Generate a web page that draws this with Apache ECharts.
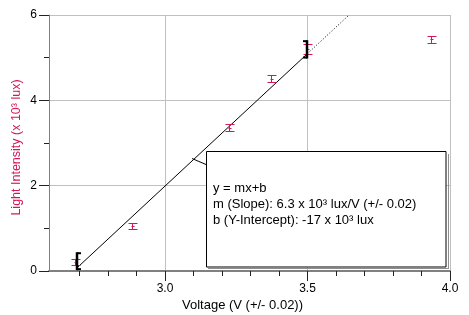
<!DOCTYPE html>
<html><head><meta charset="utf-8">
<script src="https://cdn.jsdelivr.net/npm/echarts@6/dist/echarts.min.js"></script>
<style>html,body{margin:0;padding:0;background:#fff}#c{width:469px;height:315px}</style>
</head><body><div id="c"></div>
<script>
// ---- data ----
const voltage   = [2.685, 2.885, 3.226, 3.371, 3.5, 3.935];
const intensity = [0.21, 1.05, 3.36, 4.51, 5.2, 5.43];
const errorY    = [0.08, 0.077, 0.075, 0.075, 0.11, 0.08];
const fitSlope = 6.21;
const fitIntercept = -16.64;
const fitRange = [2.69, 3.5];
const bracketX    = [2.69, 3.5];
const bracketLow  = [0.02, 4.98];
const bracketHigh = [0.44, 5.41];
const bracketDir  = [1, -1];
const xMin = 2.593, xMax = 4.0;
const yMin = 0, yMax = 6;
const xMajorTicks = [3.0, 3.5, 4.0];
const xMinorTicks = [2.7, 2.8, 2.9, 3.1, 3.2, 3.3, 3.4, 3.6, 3.7, 3.8, 3.9];
const xTitle = 'Voltage (V (+/- 0.02))';
const yTitle = 'Light Intensity (x 10³ lux)';
const boxLines = ['y = mx+b', 'm (Slope): 6.3 x 10³ lux/V (+/- 0.02)', 'b (Y-Intercept): -17 x 10³ lux'];

const RED = '#d41856';
const FONT = '"Liberation Sans", Arial, sans-serif';

const fitY = x => fitSlope * x + fitIntercept;
const xTop = (yMax - fitIntercept) / fitSlope;
const solidFit = [[fitRange[0], fitY(fitRange[0])], [fitRange[1], fitY(fitRange[1])]];
const dottedFit = [[fitRange[1], fitY(fitRange[1])], [xTop, yMax]];

const errData = voltage.map((v, i) => [v, intensity[i], errorY[i]]);
const brData = bracketX.map((v, i) => [v, bracketLow[i], bracketHigh[i], bracketDir[i]]);

const baseGraphic = [
  {type: 'line', shape: {x1: 192, y1: 158.5, x2: 206, y2: 164.5}, style: {stroke: '#000', lineWidth: 1}, z: 10},
  {type: 'line', shape: {x1: 448.5, y1: 154, x2: 448.5, y2: 269}, style: {stroke: '#909090', lineWidth: 1}, z: 10},
  {type: 'line', shape: {x1: 208, y1: 268.5, x2: 449, y2: 268.5}, style: {stroke: '#909090', lineWidth: 1}, z: 10},
  {type: 'rect', shape: {x: 206.5, y: 151.5, width: 239.5, height: 115.5},
    style: {fill: '#fff', stroke: '#000', lineWidth: 1}, z: 11},
  {type: 'text', x: 213, y: 188, z: 12,
    style: {text: boxLines[0], font: '13px ' + FONT, fill: '#000', verticalAlign: 'middle'}},
  {type: 'text', x: 213, y: 204, z: 12,
    style: {text: boxLines[1], font: '13px ' + FONT, fill: '#000', verticalAlign: 'middle'}},
  {type: 'text', x: 213, y: 220, z: 12,
    style: {text: boxLines[2], font: '13px ' + FONT, fill: '#000', verticalAlign: 'middle'}},
  {type: 'text', x: 242.5, y: 305, z: 12,
    style: {text: xTitle, font: '13px ' + FONT, fill: '#000', align: 'center', verticalAlign: 'middle'}},
  {type: 'text', x: 17, y: 147.5, rotation: Math.PI / 2, z: 12,
    style: {text: yTitle, font: '12.5px ' + FONT, fill: RED, align: 'center', verticalAlign: 'middle'}}
];

const chart = echarts.init(document.getElementById('c'), null, {renderer: 'canvas'});
chart.setOption({
  animation: false,
  grid: {left: 49, right: 19, top: 15, bottom: 44},
  xAxis: [{
    type: 'value', min: xMin, max: xMax,
    axisLine: {show: true, lineStyle: {color: '#808080', width: 2}},
    axisTick: {show: true, length: 10, customValues: xMajorTicks, lineStyle: {color: '#222'}},
    axisLabel: {show: false},
    splitLine: {show: true, lineStyle: {color: '#c0c0c0', width: 1}}
  }, {
    type: 'value', min: xMin, max: xMax, position: 'bottom', offset: 0,
    axisLine: {show: false},
    axisTick: {show: true, length: 5, customValues: xMinorTicks, lineStyle: {color: '#222'}},
    axisLabel: {show: false},
    splitLine: {show: false}
  }],
  yAxis: {
    type: 'value', min: yMin, max: yMax, interval: 2,
    axisLine: {show: true, lineStyle: {color: '#808080', width: 1}},
    axisTick: {show: true, length: 10, lineStyle: {color: '#222'}},
    minorTick: {show: true, splitNumber: 2, length: 5, lineStyle: {color: '#222'}},
    axisLabel: {color: '#000', fontSize: 12, fontFamily: FONT, margin: 12},
    splitLine: {show: true, lineStyle: {color: '#c0c0c0', width: 1}}
  },
  series: [{
    type: 'line', data: solidFit, symbol: 'none', silent: true,
    lineStyle: {color: '#000', width: 1}, z: 3
  }, {
    type: 'line', data: dottedFit, symbol: 'none', silent: true,
    lineStyle: {color: '#000', width: 1, type: [1, 2]}, z: 3
  }, {
    type: 'custom', data: errData, z: 5, silent: true,
    renderItem: function (params, api) {
      const x = api.value(0), y = api.value(1), e = api.value(2);
      const lo = api.coord([x, y - e]), hi = api.coord([x, y + e]), c = api.coord([x, y]);
      const px = Math.round(lo[0]) + 0.5;
      const style = {stroke: RED, lineWidth: 1};
      const yl = Math.round(lo[1]) + 0.5, yh = Math.round(hi[1]) + 0.5, yc = Math.round(c[1]) + 0.5;
      return {type: 'group', children: [
        {type: 'line', shape: {x1: px, y1: yl, x2: px, y2: yh}, style},
        {type: 'line', shape: {x1: px - 4, y1: yl, x2: px + 5, y2: yl}, style},
        {type: 'line', shape: {x1: px - 4, y1: yh, x2: px + 5, y2: yh}, style},
        {type: 'line', shape: {x1: px - 1, y1: yc, x2: px + 2, y2: yc}, style}
      ]};
    }
  }, {
    type: 'custom', data: brData, z: 6, silent: true,
    renderItem: function (params, api) {
      const x = api.value(0), l = api.value(1), h = api.value(2), d = api.value(3);
      const a = api.coord([x, l]), b = api.coord([x, h]);
      const px = Math.round(a[0]);
      const style = {stroke: '#000', lineWidth: 2};
      return {type: 'group', children: [
        {type: 'line', shape: {x1: px, y1: a[1], x2: px, y2: b[1]}, style: {stroke: '#000', lineWidth: 2.5}},
        {type: 'line', shape: {x1: px, y1: a[1] - 1, x2: px + d * 4, y2: a[1] - 1}, style},
        {type: 'line', shape: {x1: px, y1: b[1] + 1, x2: px + d * 4, y2: b[1] + 1}, style}
      ]};
    }
  }],
  graphic: baseGraphic
});

// x-axis tick labels placed through the axis scale
const xLabelGraphic = xMajorTicks.map(v => {
  const p = chart.convertToPixel({xAxisIndex: 0, yAxisIndex: 0}, [v, yMin]);
  return {type: 'text', x: p[0], y: p[1] + 12, z: 12,
    style: {text: v.toFixed(1), font: '12px ' + FONT, fill: '#000', align: 'center', verticalAlign: 'top'}};
});
chart.setOption({graphic: baseGraphic.concat(xLabelGraphic)});
</script>
</body></html>
